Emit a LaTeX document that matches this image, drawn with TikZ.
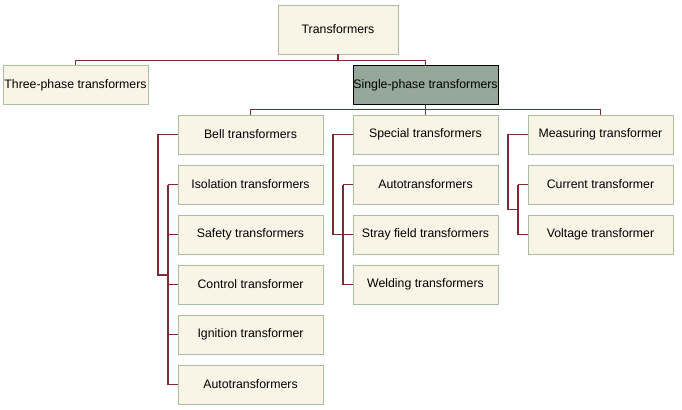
\documentclass[tikz,border=0pt]{standalone}
\usepackage{fontspec}
\setmainfont{Liberation Sans}
\usepackage{tikz}
\definecolor{boxfill}{HTML}{FAF4E6}
\definecolor{boxline}{HTML}{A8C0A0}
\definecolor{selfill}{HTML}{95A89A}
\definecolor{wire}{HTML}{7E2A33}
\tikzset{
  box/.style={draw=boxline,fill=boxfill,minimum width=2.9cm,minimum height=0.78cm,inner sep=0pt,font=\fontsize{7}{8}\selectfont},
  link/.style={draw=wire,semithick}
}
\begin{document}
\begin{tikzpicture}[x=0.02cm,y=-0.02cm]
	\useasboundingbox (0,0) rectangle (682,409);
	% top levels
	\node[box,minimum width=2.4cm,minimum height=0.98cm] (trafo) at (338,29.5) {Transformers};
	\node[box] (three) at (75.5,85) {Three-phase transformers};
	\node[box,fill=selfill,draw=black] (single) at (425.5,85) {Single-phase transformers};
	\node[box] (bell) at (250.5,134.5) {Bell transformers};
	\node[box] (special) at (425.5,134.5) {Special transformers};
	\node[box] (measure) at (600.5,134.5) {Measuring transformer};
	% bell column
	\node[box] (iso) at (250.5,184.5) {Isolation transformers};
	\node[box] (safety) at (250.5,234.5) {Safety transformers};
	\node[box] (control) at (250.5,284.5) {Control transformer};
	\node[box] (ignition) at (250.5,334.5) {Ignition transformer};
	\node[box] (autoA) at (250.5,384.5) {Autotransformers};
	% special column
	\node[box] (autoB) at (425.5,184.5) {Autotransformers};
	\node[box] (stray) at (425.5,234.5) {Stray field transformers};
	\node[box] (weld) at (425.5,284.5) {Welding transformers};
	% measuring column
	\node[box] (current) at (600.5,184.5) {Current transformer};
	\node[box] (voltage) at (600.5,234.5) {Voltage transformer};

	\draw[link] (trafo.south) -- ++(0,6) -| (three.north);
	\draw[link] (trafo.south) -- ++(0,6) -| (single.north);
	\draw[link] (single.south) -- ++(0,5) -| (bell.north);
	\draw[link] (single.south) -- ++(0,5) -| (special.north);
	\draw[link] (single.south) -- ++(0,5) -| (measure.north);

	\coordinate (bellbus) at (158,275);
	\draw[link] (bell.west) -| (bellbus) -- ++(10,0);
	\draw[link] (168,184.5) -- (168,384.5);
	\foreach \c in {iso,safety,control,ignition,autoA}
		\draw[link] (\c.west) -- ++(-10,0);

	\coordinate (specbus) at (333,234.5);
	\draw[link] (special.west) -| (specbus) -- ++(10,0);
	\draw[link] (343,184.5) -- (343,284.5);
	\foreach \c in {autoB,stray,weld}
		\draw[link] (\c.west) -- ++(-10,0);

	\coordinate (measbus) at (508,209.5);
	\draw[link] (measure.west) -| (measbus) -- ++(10,0);
	\draw[link] (518,184.5) -- (518,234.5);
	\foreach \c in {current,voltage}
		\draw[link] (\c.west) -- ++(-10,0);
\end{tikzpicture}
\end{document}
